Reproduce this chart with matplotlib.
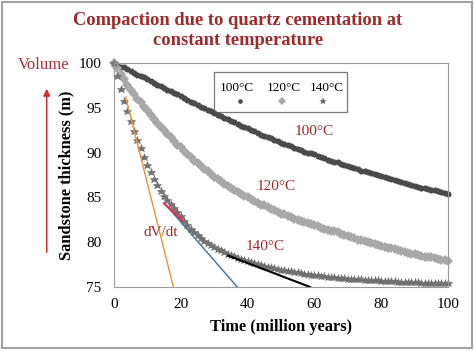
import matplotlib
matplotlib.use('Agg')
import matplotlib.pyplot as plt
from matplotlib.patches import Rectangle

plt.rcParams['font.family'] = ['Liberation Serif', 'DejaVu Serif']

# ---- data ----
time_myr = list(range(0, 101))
v100 = [100.0, 99.8, 99.6, 99.5, 99.3, 99.1, 98.9, 98.7, 98.6, 98.4,
        98.2, 98.0, 97.8, 97.6, 97.4, 97.2, 97.0, 96.9, 96.7, 96.5,
        96.3, 96.1, 95.9, 95.7, 95.5, 95.3, 95.1, 95.0, 94.8, 94.6,
        94.4, 94.2, 94.1, 93.9, 93.7, 93.5, 93.4, 93.2, 93.0, 92.9,
        92.7, 92.5, 92.4, 92.2, 92.0, 91.9, 91.7, 91.6, 91.4, 91.3,
        91.1, 91.0, 90.8, 90.7, 90.5, 90.4, 90.3, 90.1, 90.0, 89.9,
        89.8, 89.6, 89.5, 89.4, 89.2, 89.1, 89.0, 88.9, 88.7, 88.6,
        88.5, 88.4, 88.3, 88.2, 88.0, 87.9, 87.8, 87.7, 87.6, 87.5,
        87.4, 87.3, 87.2, 87.1, 86.9, 86.8, 86.7, 86.6, 86.5, 86.4,
        86.3, 86.2, 86.1, 86.0, 85.9, 85.8, 85.8, 85.7, 85.6, 85.5, 85.4]
v120 = [100.0, 99.4, 98.8, 98.2, 97.6, 97.0, 96.5, 96.0, 95.6, 95.1,
        94.7, 94.2, 93.8, 93.3, 92.9, 92.5, 92.1, 91.7, 91.3, 90.9,
        90.6, 90.2, 89.8, 89.5, 89.1, 88.8, 88.5, 88.2, 87.9, 87.6,
        87.3, 87.1, 86.8, 86.5, 86.3, 86.1, 85.8, 85.6, 85.4, 85.2,
        85.0, 84.8, 84.6, 84.4, 84.2, 84.1, 83.9, 83.7, 83.6, 83.4,
        83.2, 83.1, 82.9, 82.8, 82.6, 82.5, 82.4, 82.2, 82.1, 82.0,
        81.9, 81.8, 81.6, 81.5, 81.4, 81.3, 81.2, 81.1, 80.9, 80.8,
        80.7, 80.6, 80.5, 80.3, 80.2, 80.1, 80.0, 79.9, 79.8, 79.7,
        79.6, 79.5, 79.4, 79.3, 79.2, 79.1, 79.0, 78.9, 78.8, 78.7,
        78.7, 78.6, 78.5, 78.4, 78.3, 78.3, 78.2, 78.1, 78.0, 78.0, 77.9]
v140 = [100.00, 98.60, 97.10, 95.80, 94.60, 93.50, 92.40, 91.42, 90.50, 89.56,
        88.67, 87.84, 87.08, 86.37, 85.76, 85.20, 84.72, 84.27, 83.83, 83.39,
        82.88, 82.40, 81.95, 81.52, 81.12, 80.75, 80.42, 80.17, 79.94, 79.71,
        79.49, 79.29, 79.09, 78.90, 78.72, 78.56, 78.41, 78.28, 78.15, 78.02,
        77.90, 77.79, 77.67, 77.57, 77.46, 77.37, 77.27, 77.19, 77.11, 77.03,
        76.95, 76.88, 76.81, 76.74, 76.68, 76.62, 76.56, 76.50, 76.44, 76.39,
        76.34, 76.29, 76.24, 76.19, 76.15, 76.11, 76.07, 76.03, 75.99, 75.96,
        75.94, 75.91, 75.89, 75.86, 75.84, 75.81, 75.79, 75.77, 75.75, 75.73,
        75.71, 75.69, 75.67, 75.65, 75.63, 75.61, 75.60, 75.58, 75.56, 75.55,
        75.53, 75.52, 75.50, 75.49, 75.47, 75.46, 75.45, 75.44, 75.42, 75.41, 75.40]

series_labels = ['100°C', '120°C', '140°C']

# tangent lines (dV/dt) endpoints
tan_orange_t, tan_orange_v = [3.5, 17.8], [96.2, 75.0]
tan_red_t, tan_red_v = [15.0, 20.5], [84.3, 82.4]
tan_blue_t, tan_blue_v = [15.0, 36.9], [84.4, 75.0]
tan_black_t, tan_black_v = [34.2, 58.7], [78.5, 75.0]

xticks = [0, 20, 40, 60, 80, 100]
yticks = [75, 80, 85, 90, 95, 100]

DARKRED = '#9e2a2b'
C100, C120, C140 = '#4a4a4a', '#a8a8a8', '#707070'
M100, M120, M140 = 4.4, 5.0, 6.2

fig = plt.figure(figsize=(4.74, 3.51), dpi=100)
fig.patches.append(Rectangle((1.5/474, 3/351), 470/474, 346/351, transform=fig.transFigure,
                             fill=False, edgecolor='#a0a0a0', lw=1.5))
ax = fig.add_axes([114/474, 1-287/351, 334/474, 224/351])

ax.plot(time_myr, v100, 'o', ms=M100, color=C100, mew=0, clip_on=False)
ax.plot(time_myr, v120, 'D', ms=M120, color=C120, mew=0, clip_on=False)
ax.plot(time_myr, v140, '*', ms=M140, color=C140, mew=0.4, mec=C140, clip_on=False)

ax.plot(tan_orange_t, tan_orange_v, color='#e8962e', lw=1)
ax.plot(tan_blue_t, tan_blue_v, color='#3f6d96', lw=1)
ax.plot(tan_red_t, tan_red_v, color='#e0304a', lw=1.5)
ax.plot(tan_black_t, tan_black_v, color='black', lw=1.5)

ax.set_xlim(0, 100); ax.set_ylim(75, 100)
ax.set_xticks(xticks); ax.set_yticks(yticks)
ax.tick_params(length=0, labelsize=11)
ax.tick_params(axis='y', pad=9)
ax.tick_params(axis='x', pad=8)
for s in ax.spines.values():
    s.set_color('#9a9a9a')
ax.set_xlabel('Time (million years)', fontsize=11.8, fontweight='bold')
ax.xaxis.label.set_va('center')
ax.xaxis.set_label_coords(0.5, -40/224)
ax.set_ylabel('Sandstone thickness (m)', fontsize=11.8, fontweight='bold')
ax.yaxis.label.set_va('center')
ax.yaxis.set_label_coords(-48/334, 0.5)

# curve labels
ax.text(59.9, 92.3, '100°C', color=DARKRED, fontsize=11, ha='center', va='center')
ax.text(48.5, 86.2, '120°C', color=DARKRED, fontsize=11, ha='center', va='center')
ax.text(45.2, 79.5, '140°C', color=DARKRED, fontsize=11, ha='center', va='center')
ax.text(14.1, 81.1, 'dV/dt', color=DARKRED, fontsize=11, ha='center', va='center')

# legend box (labels above markers)
ax.add_patch(Rectangle((0.299, 0.781), 0.399, 0.179, transform=ax.transAxes,
                       fill=False, edgecolor='#7a7a7a', lw=0.9))
for lab, xt, xm, col, mk, ms in zip(series_labels, [0.368, 0.509, 0.638],
                                     [0.377, 0.502, 0.627], [C100, C120, C140],
                                     ['o', 'D', '*'], [3.3, 4, 6]):
    ax.text(xt, 0.888, lab, transform=ax.transAxes, fontsize=9.5, ha='center', va='center')
    ax.plot([xm], [0.830], mk, ms=ms, color=col, mew=0, transform=ax.transAxes)

fig.text(238/474, 1-30.5/351, 'Compaction due to quartz cementation at\nconstant temperature',
         ha='center', va='center', fontsize=13.3, fontweight='bold', color=DARKRED, linespacing=1.3)
fig.text(44/474, 1-65/351, 'Volume', ha='center', va='center', fontsize=12, color='#a8303a')
fig.add_artist(matplotlib.patches.FancyArrowPatch((46.7/474, 1-255/351), (46.7/474, 1-86/351),
               transform=fig.transFigure, arrowstyle='-|>,head_length=4,head_width=2',
               color='#d02a2a', lw=1.1))

fig.savefig('out.png', dpi=100)
